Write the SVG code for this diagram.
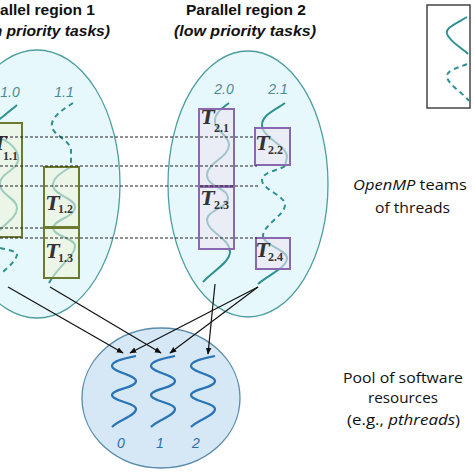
<svg xmlns="http://www.w3.org/2000/svg" width="474" height="474" viewBox="0 0 474 474">
<defs>
<style>
.title{font-family:"Liberation Sans",sans-serif;font-weight:bold;font-size:15px;fill:#111}
.note{font-family:"Open Sans","Liberation Sans",sans-serif;font-size:15px;fill:#111}
.tl{font-family:"Liberation Sans",sans-serif;font-style:italic;font-size:14px;fill:#4a8a96}
.bl{font-family:"Liberation Sans",sans-serif;font-style:italic;font-size:14px;fill:#2e6fa8}
.T{font-family:"DejaVu Serif","Liberation Serif",serif;font-weight:bold;font-style:italic;font-size:18px;fill:#333}
.sub{font-family:"Liberation Serif",serif;font-weight:bold;font-size:12px;fill:#333}
.reg{fill:#e6f8fb;stroke:#4f9e9e;stroke-width:1.3}
.thr{fill:none;stroke:#2e9090;stroke-width:2}
.dash{stroke-dasharray:5,4}
.hl{stroke:#222;stroke-width:1;stroke-dasharray:3,2;fill:none}
.b1{fill:#eef3dc;fill-opacity:0.6;stroke:#6b7a2e;stroke-width:2}
.b2{fill:#ece6f4;fill-opacity:0.6;stroke:#8a68b0;stroke-width:2}
.arr{stroke:#111;stroke-width:1.2;fill:none;marker-end:url(#ah)}
.bt{fill:none;stroke:#2a74b8;stroke-width:2.2}
</style>
<marker id="ah" viewBox="0 0 10 10" refX="9" refY="5" markerWidth="7" markerHeight="7" orient="auto" markerUnits="userSpaceOnUse">
<path d="M0,1 L10,5 L0,9 z" fill="#111"/>
</marker>
</defs>
<rect width="474" height="474" fill="#fff"/>

<g id="titles">
<text class="title" x="95" y="15" text-anchor="end" textLength="120" lengthAdjust="spacingAndGlyphs">Parallel region 1</text>
<text class="title" x="110" y="36" text-anchor="end" font-style="italic" textLength="146" lengthAdjust="spacingAndGlyphs">(high priority tasks)</text>
<text class="title" x="186" y="15" textLength="120" lengthAdjust="spacingAndGlyphs">Parallel region 2</text>
<text class="title" x="174" y="36" font-style="italic" textLength="142" lengthAdjust="spacingAndGlyphs">(low priority tasks)</text>
</g>

<g id="region1">
<ellipse class="reg" cx="37" cy="184" rx="83" ry="134"/>
<text class="tl" x="10" y="97" text-anchor="middle">1.0</text>
<text class="tl" x="64" y="97" text-anchor="middle">1.1</text>
<path class="thr" d="M17,105 C10,111 2,117 -4,122"/>
<path class="thr" d="M-2,138 C8,140 20,150 18,161 C16,171 0,173 0,184 C0,195 17,198 17,208 C17,218 4,224 -2,232"/>
<path class="thr dash" d="M0,248 C8,250 17,251 17,255 C15,262 8,267 2,273"/>
<path class="thr dash" d="M73,103 C62,110 50,118 52,127 C54,136 70,140 71,150 L71,167"/>
<path class="thr" d="M71,167 C62,172 52,178 53,186 C55,196 75,198 75,207 C75,217 53,220 53,228 C53,236 75,238 75,246 C75,256 58,266 49,283"/>
</g>

<g id="region2">
<ellipse class="reg" cx="248" cy="184" rx="80" ry="133"/>
<text class="tl" x="224" y="94" text-anchor="middle">2.0</text>
<text class="tl" x="278" y="94" text-anchor="middle">2.1</text>
<path class="thr" d="M229,103 C222,108 214,114 215,122 C216,132 229,135 229,145 C229,157 207,163 207,175 C207,187 228,188 228,198 C228,208 207,210 207,220 C207,232 230,238 230,252 C230,262 212,272 203,282"/>
<path class="thr" d="M285,103 C275,110 262,115 262,125 C262,138 287,145 287,157 L285,166"/>
<path class="thr dash" d="M285,166 C280,170 262,172 262,180 C262,190 285,195 285,205 C285,215 263,225 263,236"/>
<path class="thr" d="M263,236 C263,245 287,250 287,258 C287,268 268,275 258,284"/>
</g>

<g id="tasks">
<g id="T11"><rect class="b1" x="-10" y="123" width="32" height="114"/><text class="T" x="-7" y="150">T</text><text class="sub" x="3" y="160">1.1</text></g>
<g id="T12"><rect class="b1" x="44" y="167" width="35" height="60"/><text class="T" x="46" y="210">T</text><text class="sub" x="58" y="213">1.2</text></g>
<g id="T13"><rect class="b1" x="44" y="228" width="35" height="50"/><text class="T" x="46" y="258">T</text><text class="sub" x="58" y="262">1.3</text></g>
<g id="T21"><rect class="b2" x="199" y="109" width="35" height="77"/><text class="T" x="201" y="124">T</text><text class="sub" x="214" y="132">2.1</text></g>
<g id="T22"><rect class="b2" x="255" y="128" width="35" height="37"/><text class="T" x="256" y="150">T</text><text class="sub" x="268" y="154">2.2</text></g>
<g id="T23"><rect class="b2" x="199" y="187" width="35" height="62"/><text class="T" x="201" y="205">T</text><text class="sub" x="214" y="209">2.3</text></g>
<g id="T24"><rect class="b2" x="256" y="238" width="34" height="31"/><text class="T" x="256" y="257">T</text><text class="sub" x="268" y="261">2.4</text></g>
</g>

<g id="sync-lines">
<path class="hl" d="M0,137 H255 M0,166 H257 M0,186 H258 M0,228 H44 M0,238 H257"/>
</g>

<g id="legend">
<rect x="427" y="5" width="43" height="103" fill="#fff" stroke="#444" stroke-width="1.5"/>
<path class="thr" d="M467,17 C455,24 445,28 447,34 C450,42 462,48 468,54"/>
<path class="thr dash" d="M467,64 C458,68 447,70 447,76 C447,84 462,92 469,101"/>
</g>

<g id="pool">
<ellipse cx="161" cy="398" rx="79" ry="70" fill="#d6e8f6" stroke="#5a8aaa" stroke-width="1.3"/>
<path class="bt" d="M136,356 C126,358 112,361 112,366 C112,372 136,375 136,381 C136,388 112,389 112,395 C112,401 136,403 136,409 C136,416 118,420 112,427"/>
<path class="bt" d="M175,356 C165,358 151,361 151,366 C151,372 175,375 175,381 C175,388 151,389 151,395 C151,401 175,403 175,409 C175,416 157,420 151,427"/>
<path class="bt" d="M215,356 C205,358 191,361 191,366 C191,372 215,375 215,381 C215,388 191,389 191,395 C191,401 215,403 215,409 C215,416 197,420 191,427"/>
<text class="bl" x="121" y="448" text-anchor="middle">0</text>
<text class="bl" x="160" y="448" text-anchor="middle">1</text>
<text class="bl" x="196" y="448" text-anchor="middle">2</text>
</g>

<g id="connectors">
<path class="arr" d="M8,287 L123,353"/>
<path class="arr" d="M50,287 L161,353"/>
<path class="arr" d="M215,284 L208,354"/>
<path class="arr" d="M258,287 L130,353"/>
<path class="arr" d="M258,287 L170,353"/>
</g>

<g id="notes">
<text class="note" x="353" y="190" textLength="114" lengthAdjust="spacingAndGlyphs"><tspan font-style="italic">OpenMP</tspan> teams</text>
<text class="note" x="375" y="213" textLength="75" lengthAdjust="spacingAndGlyphs">of threads</text>
<text class="note" x="343" y="383" textLength="120" lengthAdjust="spacingAndGlyphs">Pool of software</text>
<text class="note" x="368" y="403" textLength="70" lengthAdjust="spacingAndGlyphs">resources</text>
<text class="note" x="347" y="425" textLength="113" lengthAdjust="spacingAndGlyphs">(e.g., <tspan font-style="italic">pthreads</tspan>)</text>
</g>
</svg>
